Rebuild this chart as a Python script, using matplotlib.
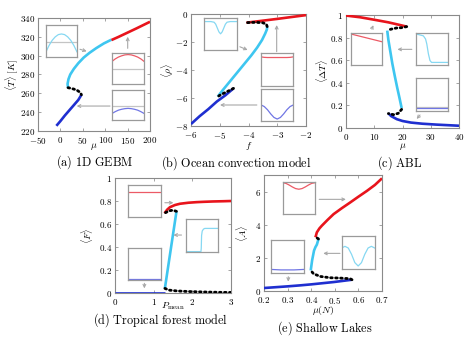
import matplotlib
matplotlib.use("Agg")
import matplotlib.pyplot as plt
from matplotlib.ticker import FuncFormatter

RED = "#e8141c"
CYAN = "#3ec6f0"
BLUE = "#1f2fd0"
I_RED = "#ec5a66"
I_CYAN = "#86d8f2"
I_BLUE = "#7076e4"
I_GREY = "#c4c4c4"
FRAME = "#9a9a9a"

# (a) 1D GEBM
a_blue_mu = [-9, 0, 10, 20, 30, 40, 47]
a_blue_T = [225.5, 230.5, 236.5, 242, 247.5, 253, 258.5]
a_dot_mu = [17, 22, 30, 38, 44, 47]
a_dot_T = [266, 265.5, 264.5, 263, 261, 258.5]
a_cyan_mu = [17, 16, 18, 22, 30, 40, 52, 65, 80, 97, 114]
a_cyan_T = [266, 270, 275, 280, 286, 292, 298, 303, 308, 313, 317]
a_red_mu = [114, 130, 150, 170, 185, 200]
a_red_T = [316.6, 320, 324.5, 329, 332.5, 336]

# (b) Ocean convection model
b_blue_f = [-6, -5.7, -5.4, -5.1, -4.8, -4.52]
b_blue_rho = [-7.86, -7.3, -6.8, -6.25, -5.8, -5.31]
b_dot1_f = [-4.52, -4.65, -4.8, -4.95, -5.07]
b_dot1_rho = [-5.31, -5.45, -5.6, -5.75, -5.9]
b_cyan_f = [-5.07, -4.9, -4.7, -4.5, -4.3, -4.1, -3.9, -3.7, -3.53, -3.42, -3.36, -3.35]
b_cyan_rho = [-5.9, -5.45, -4.95, -4.45, -3.95, -3.45, -2.95, -2.4, -1.86, -1.4, -1.1, -0.9]
b_dot2_f = [-3.35, -3.38, -3.5, -3.7, -3.9, -4.07]
b_dot2_rho = [-0.9, -0.72, -0.63, -0.6, -0.6, -0.62]
b_red_f = [-4.07, -3, -2]
b_red_rho = [-0.62, -0.35, -0.08]

# (c) ABL
c_red_mu = [0, 5, 10, 15, 19, 21.5]
c_red_dT = [0.995, 0.98, 0.958, 0.935, 0.912, 0.897]
c_dot1_mu = [21.5, 19.7, 17.9, 16.2, 14.6]
c_dot1_dT = [0.897, 0.888, 0.885, 0.876, 0.866]
c_cyan_mu = [14.6, 15.0, 15.6, 16.4, 17.3, 18.1, 18.9, 19.7]
c_cyan_dT = [0.862, 0.78, 0.69, 0.57, 0.456, 0.36, 0.27, 0.176]
c_dot2_mu = [19.7, 18.5, 16.8, 15]
c_dot2_dT = [0.165, 0.13, 0.118, 0.128]
c_blue_mu = [15, 16, 18, 20, 23, 27, 32, 36, 40]
c_blue_dT = [0.13, 0.105, 0.078, 0.062, 0.048, 0.038, 0.03, 0.025, 0.02]

# (d) Tropical forest model
d_blue_P = [0, 1.29]
d_blue_F = [0.003, 0.003]
d_cyan_P = [1.29, 1.44, 1.59]
d_cyan_F = [0.04, 0.375, 0.71]
d_dot1_P = [1.29, 1.4, 1.6, 1.9, 2.3, 2.7, 3.0]
d_dot1_F = [0.04, 0.025, 0.018, 0.013, 0.009, 0.006, 0.005]
d_dot2_P = [1.59, 1.5, 1.4, 1.28]
d_dot2_F = [0.71, 0.72, 0.715, 0.694]
d_red_P = [1.28, 1.35, 1.42, 1.55, 1.68, 1.9, 2.11, 2.3, 2.54, 2.8, 3.0]
d_red_F = [0.694, 0.725, 0.746, 0.765, 0.776, 0.785, 0.79, 0.793, 0.796, 0.798, 0.80]

# (e) Shallow Lakes
e_blue_N = [0.2, 0.3, 0.353, 0.4, 0.495, 0.573]
e_blue_A = [0.18, 0.28, 0.34, 0.4, 0.54, 0.68]
e_dot1_N = [0.573, 0.565, 0.523, 0.48, 0.438, 0.41, 0.398]
e_dot1_A = [0.68, 0.74, 0.78, 0.8, 0.88, 1.04, 1.24]
e_cyan_N = [0.398, 0.401, 0.404, 0.408, 0.412, 0.418, 0.424, 0.431]
e_cyan_A = [1.24, 1.55, 1.86, 2.15, 2.44, 2.65, 2.8, 3.14]
e_dot2_N = [0.431, 0.425, 0.418]
e_dot2_A = [3.14, 3.2, 3.24]
e_red_N = [0.418, 0.424, 0.435, 0.445, 0.47, 0.495, 0.53, 0.565, 0.6, 0.636, 0.67, 0.7]
e_red_A = [3.24, 3.54, 3.78, 3.94, 4.3, 4.64, 5.0, 5.34, 5.69, 6.04, 6.4, 6.8]

# inset profiles (normalised, x from 0 to 1)
px11 = [0, .1, .2, .3, .4, .5, .6, .7, .8, .9, 1]
px15 = [0, .1, .2, .3, .35, .4, .45, .5, .55, .6, .65, .7, .8, .9, 1]
flat_x = [0, 1]

a_in1_cyan = [.16, .36, .52, .63, .70, .72, .70, .63, .52, .36, .16]
a_in2_red = [.73, .81, .87, .91, .94, .95, .94, .91, .87, .81, .73]
a_in3_blue = [.22, .28, .33, .36, .38, .39, .38, .36, .33, .28, .22]
a_grey = [.47, .47]

b_in1_cyan = [.88, .88, .88, .86, .80, .68, .56, .50, .56, .68, .80, .86, .88, .88, .88]
b_in2_red = [.89, .875, .87, .87, .87, .87, .87, .87, .87, .875, .89]
b_in3_blue = [.5, .45, .35, .22, .11, .06, .11, .22, .35, .45, .5]

c_in1_red = [.98, .73]
c_in2_x = [0, .23, .3, .34, .39, .44, .49, .55, 1]
c_in2_cyan = [.98, .92, .82, .66, .35, .14, .08, .08, .08]
c_in3_blue = [.09, .09]
c_in3_grey = [.13, .13]

d_in1_red = [.77, .77]
d_in2_x = [0, .46, .47, .48, .5, .54, .58, 1]
d_in2_cyan = [0, 0, .1, .5, .64, .70, .72, .72]
d_in3_blue = [.03, .03]

e_in1_red = [.97, .95, .9, .84, .79, .77, .79, .84, .9, .95, .97]
e_in2_cyan = [.64, .69, .64, .45, .2, .1, .2, .45, .64, .69, .64]
e_in3_blue = [.1, .095, .09, .085, .085, .085, .085, .085, .09, .095, .1]


def px_box(left, top, right, bottom):
	W, H = 474.0, 339.0
	return [left / W, 1 - bottom / H, (right - left) / W, (bottom - top) / H]


def style_axes(ax, xlim, ylim, xticks, yticks, xlabel, ylabel, xl_pos, yl_pos):
	ax.set_xlim(xlim)
	ax.set_ylim(ylim)
	ax.set_xticks(xticks)
	ax.set_yticks(yticks)
	fmt = FuncFormatter(lambda v, p: "$%g$" % v)
	ax.xaxis.set_major_formatter(fmt)
	ax.yaxis.set_major_formatter(fmt)
	ax.tick_params(direction="in", length=2.5, width=0.5, color="#808080",
		labelsize=6.5, pad=2, top=True, right=True)
	ax.tick_params(axis="x", pad=3)
	for s in ax.spines.values():
		s.set_color("#8a8a8a")
		s.set_linewidth(0.8)
	ax.set_xlabel(xlabel, fontsize=7, va="center")
	ax.set_ylabel(ylabel, fontsize=7, va="center")
	ax.xaxis.set_label_coords(0.5, xl_pos)
	ax.yaxis.set_label_coords(yl_pos, 0.5)


def branch(ax, x, y, color):
	ax.plot(x, y, color=color, lw=1.9, solid_capstyle="butt", zorder=3)


def dots(ax, x, y):
	ax.plot(x, y, color="black", lw=2.0, linestyle=(0, (0.6, 1.2)),
		dash_capstyle="round", zorder=4)


def inset(ax, bounds, lines):
	ins = ax.inset_axes(bounds)
	for x, y, c in lines:
		ins.plot(x, y, color=c, lw=0.9)
	ins.set_xlim(0, 1)
	ins.set_ylim(0, 1)
	ins.set_xticks([])
	ins.set_yticks([])
	for s in ins.spines.values():
		s.set_color(FRAME)
		s.set_linewidth(0.9)
	return ins


def arrow(ax, start, end):
	ax.annotate("", xy=end, xytext=start,
		arrowprops=dict(arrowstyle="->", color="#a8a8a8", lw=0.8,
			mutation_scale=5, shrinkA=0, shrinkB=0))


def main():
	plt.rcParams["mathtext.fontset"] = "cm"
	plt.rcParams["font.family"] = "serif"
	fig = plt.figure(figsize=(4.74, 3.39), dpi=100)

	# (a)
	ax = fig.add_axes(px_box(38, 18, 150, 131))
	branch(ax, a_blue_mu, a_blue_T, BLUE)
	branch(ax, a_cyan_mu, a_cyan_T, CYAN)
	branch(ax, a_red_mu, a_red_T, RED)
	dots(ax, a_dot_mu, a_dot_T)
	style_axes(ax, (-50, 200), (220, 340), [-50, 0, 50, 100, 150, 200],
		[220, 240, 260, 280, 300, 320, 340], r"$\mu$", r"$\langle T\rangle\ [K]$",
		-0.14, -0.235)
	inset(ax, [0.071, 0.655, 0.277, 0.283], [(flat_x, a_grey, I_GREY), (px11, a_in1_cyan, I_CYAN)])
	inset(ax, [0.661, 0.416, 0.286, 0.274], [(flat_x, a_grey, I_GREY), (px11, a_in2_red, I_RED)])
	inset(ax, [0.661, 0.097, 0.286, 0.265], [(flat_x, a_grey, I_GREY), (px11, a_in3_blue, I_BLUE)])
	arrow(ax, (43.7, 306.8), (58.7, 304.6))
	arrow(ax, (150.2, 307.8), (150.2, 320.1))
	arrow(ax, (110.7, 246.5), (36.4, 246.5))

	# (b)
	ax = fig.add_axes(px_box(191, 14, 306, 126))
	branch(ax, b_blue_f, b_blue_rho, BLUE)
	branch(ax, b_cyan_f, b_cyan_rho, CYAN)
	branch(ax, b_red_f, b_red_rho, RED)
	dots(ax, b_dot1_f, b_dot1_rho)
	dots(ax, b_dot2_f, b_dot2_rho)
	style_axes(ax, (-6, -2), (-8, 0), [-6, -5, -4, -3, -2], [-8, -6, -4, -2, 0],
		r"$f$", r"$\langle\rho\rangle$", -0.18, -0.21)
	inset(ax, [0.116, 0.679, 0.282, 0.288], [(px15, b_in1_cyan, I_CYAN)])
	inset(ax, [0.609, 0.36, 0.281, 0.289], [(px11, b_in2_red, I_RED)])
	inset(ax, [0.609, 0.045, 0.281, 0.286], [(px11, b_in3_blue, I_BLUE)])
	arrow(ax, (-4.30, -2.34), (-4.03, -2.57))
	arrow(ax, (-3.02, -2.69), (-3.02, -0.79))
	arrow(ax, (-3.71, -6.5), (-4.99, -6.5))

	# (c)
	ax = fig.add_axes(px_box(346, 15, 459, 128))
	branch(ax, c_red_mu, c_red_dT, RED)
	branch(ax, c_cyan_mu, c_cyan_dT, CYAN)
	branch(ax, c_blue_mu, c_blue_dT, BLUE)
	dots(ax, c_dot1_mu, c_dot1_dT)
	dots(ax, c_dot2_mu, c_dot2_dT)
	style_axes(ax, (0, 40), (0, 1), [0, 10, 20, 30, 40], [0, 0.2, 0.4, 0.6, 0.8, 1],
		r"$\mu$", r"$\langle\Delta T\rangle$", -0.163, -0.21)
	inset(ax, [0.042, 0.558, 0.28, 0.28], [(flat_x, c_in1_red, I_RED)])
	inset(ax, [0.62, 0.558, 0.28, 0.28], [(c_in2_x, c_in2_cyan, I_CYAN)])
	inset(ax, [0.62, 0.15, 0.28, 0.29], [(flat_x, c_in3_grey, I_GREY), (flat_x, c_in3_blue, I_BLUE)])
	arrow(ax, (9.1, 0.876), (9.7, 0.91))
	arrow(ax, (23.3, 0.696), (18.2, 0.696))
	arrow(ax, (26.2, 0.115), (25.0, 0.08))

	# (d)
	ax = fig.add_axes(px_box(115, 178, 231, 293))
	branch(ax, d_blue_P, d_blue_F, BLUE)
	branch(ax, d_cyan_P, d_cyan_F, CYAN)
	branch(ax, d_red_P, d_red_F, RED)
	dots(ax, d_dot1_P, d_dot1_F)
	dots(ax, d_dot2_P, d_dot2_F)
	style_axes(ax, (0, 3), (0, 1), [0, 1, 2, 3], [0, 0.2, 0.4, 0.6, 0.8, 1],
		r"$P_{\mathrm{mean}}$", r"$\langle F\rangle$", -0.115, -0.245)
	inset(ax, [0.115, 0.663, 0.28, 0.28], [(flat_x, d_in1_red, I_RED)])
	inset(ax, [0.612, 0.36, 0.28, 0.28], [(d_in2_x, d_in2_cyan, I_CYAN)])
	inset(ax, [0.115, 0.113, 0.28, 0.28], [(flat_x, d_in3_blue, I_BLUE)])
	arrow(ax, (1.29, 0.785), (1.51, 0.785))
	arrow(ax, (1.72, 0.504), (1.51, 0.504))
	arrow(ax, (0.76, 0.084), (0.76, 0.04))

	# (e)
	ax = fig.add_axes(px_box(264, 175, 382, 291))
	branch(ax, e_blue_N, e_blue_A, BLUE)
	branch(ax, e_cyan_N, e_cyan_A, CYAN)
	branch(ax, e_red_N, e_red_A, RED)
	dots(ax, e_dot1_N, e_dot1_A)
	dots(ax, e_dot2_N, e_dot2_A)
	style_axes(ax, (0.2, 0.7), (0, 7), [0.2, 0.3, 0.4, 0.5, 0.6, 0.7], [0, 2, 4, 6],
		r"$\mu(N)$", r"$\langle A\rangle$", -0.172, -0.185)
	inset(ax, [0.158, 0.661, 0.274, 0.281], [(px11, e_in1_red, I_RED)])
	inset(ax, [0.658, 0.187, 0.28, 0.287], [(px11, e_in2_cyan, I_CYAN)])
	inset(ax, [0.059, 0.158, 0.28, 0.28], [(px11, e_in3_blue, I_BLUE)])
	arrow(ax, (0.434, 5.53), (0.547, 5.53))
	arrow(ax, (0.522, 2.27), (0.451, 2.27))
	arrow(ax, (0.303, 0.86), (0.303, 0.56))

	captions = [
		(95, 162, r"$\mathrm{(a)\ 1D\ GEBM}$"),
		(236, 163, r"$\mathrm{(b)\ Ocean\ convection\ model}$"),
		(400, 163, r"$\mathrm{(c)\ ABL}$"),
		(161, 320, r"$\mathrm{(d)\ Tropical\ forest\ model}$"),
		(325, 328, r"$\mathrm{(e)\ Shallow\ Lakes}$"),
	]
	for x, y, t in captions:
		fig.text(x / 474.0, 1 - y / 339.0, t, fontsize=8.8, ha="center", va="center")

	fig.savefig("out.png", dpi=100)


if __name__ == "__main__":
	main()
